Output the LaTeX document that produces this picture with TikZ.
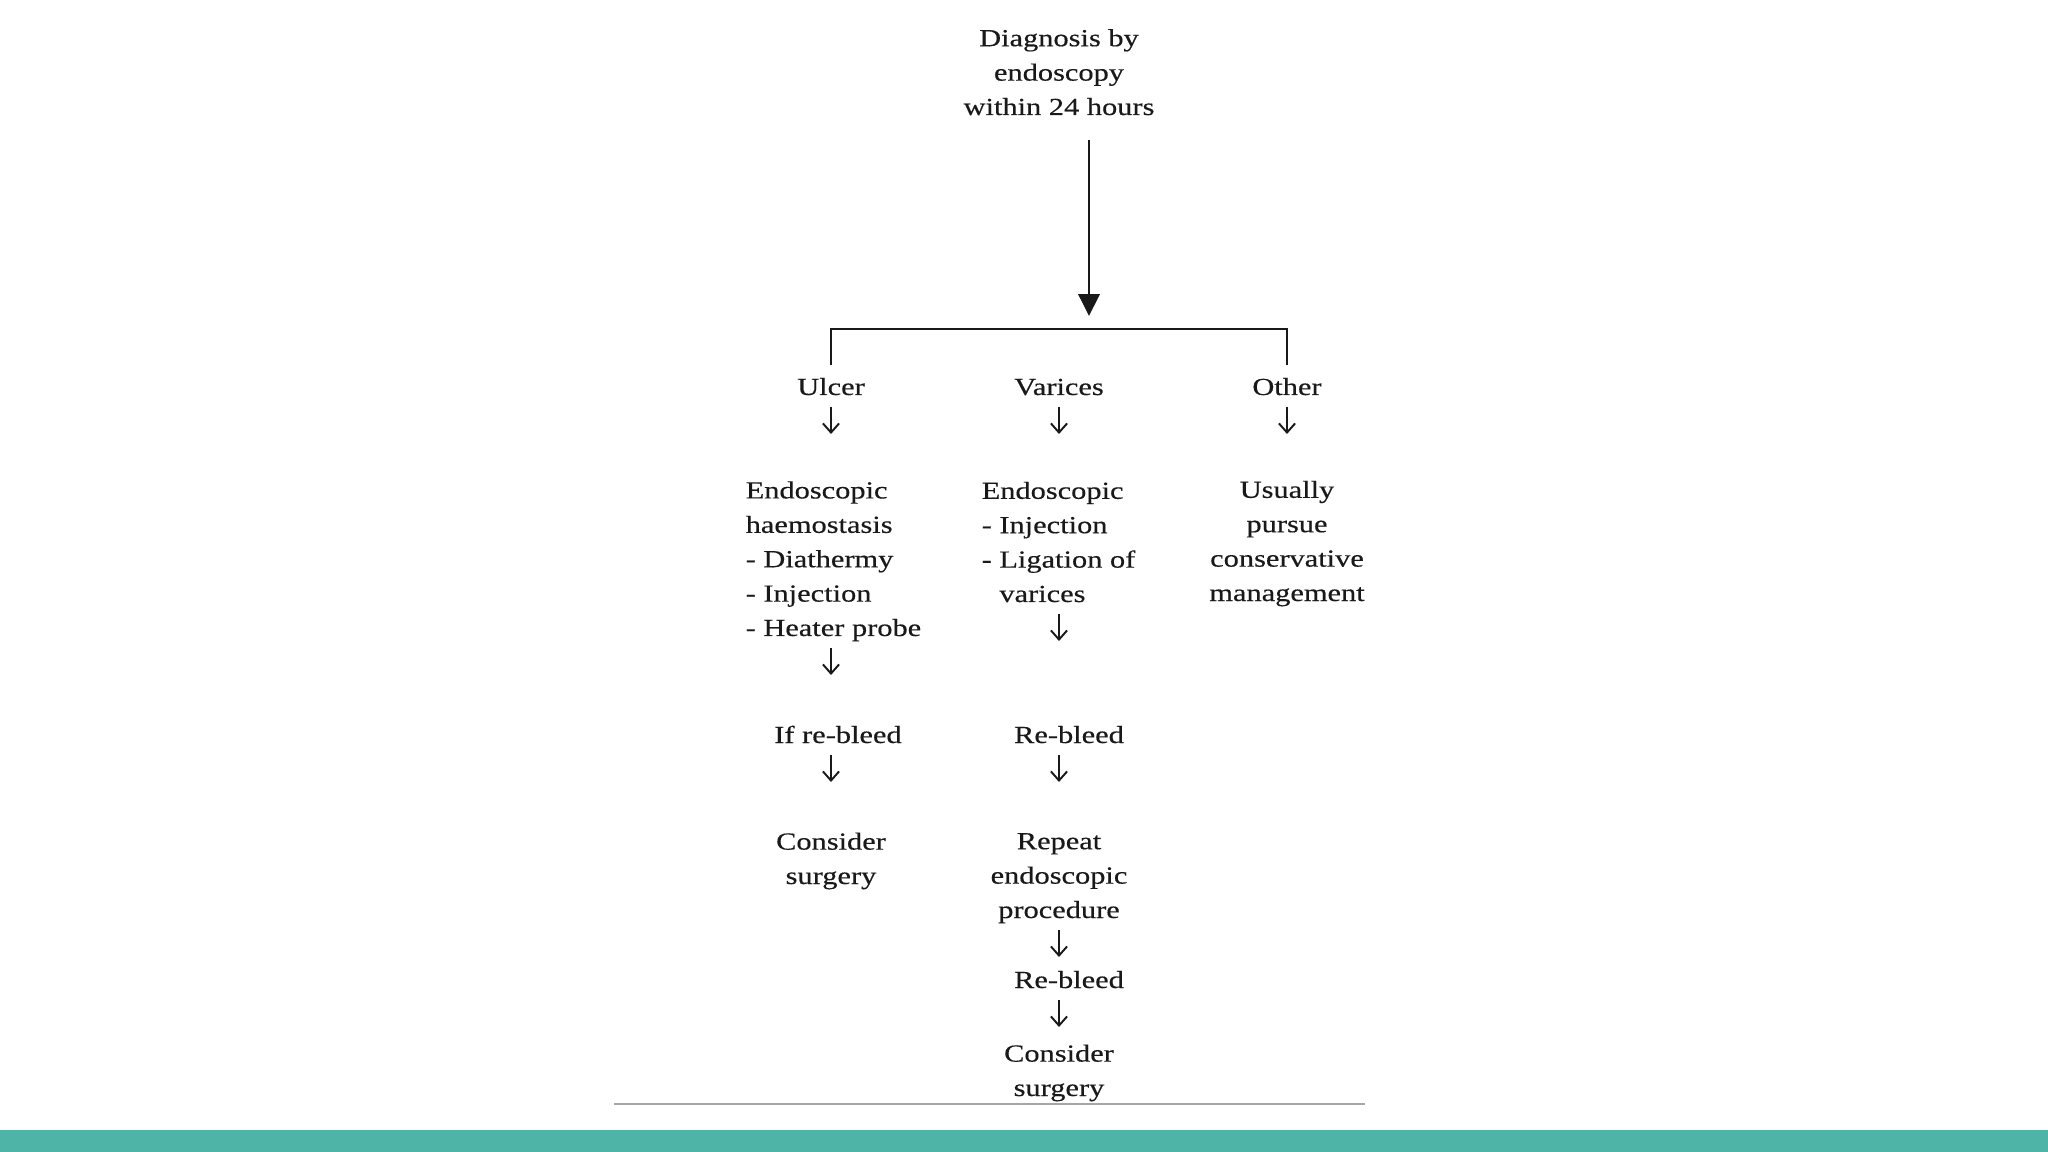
\documentclass[tikz,border=0pt]{standalone}
\usepackage{fontspec}
\setmainfont{Liberation Serif}[FakeStretch=1.24,FakeBold=0.4]
\usetikzlibrary{arrows.meta}
\definecolor{band}{RGB}{79,180,168}
\definecolor{ink}{RGB}{25,25,25}

\begin{document}
\begin{tikzpicture}[x=0.01cm,y=-0.01cm,
  every node/.style={inner sep=0pt,text=ink,font=\fontsize{6.97pt}{9.78pt}\selectfont},
  tick/.style={-{Straight Barb[length=2.6pt,width=4.6pt]},line width=0.55pt,ink},
  bigtip/.style={-{Triangle[length=6.2pt,width=6pt]},line width=0.8pt,ink}]
  \useasboundingbox (0,0) rectangle (2048,1152);
  \fill[band] (0,1130) rectangle (2048,1152);
  \draw[gray!70,line width=0.6pt] (614,1104) -- (1365,1104);

  \node [align=center,anchor=base] (diag) at (1059,115) {Diagnosis by\\endoscopy\\within 24 hours};
  \node [anchor=base] (ulcer) at (831,395) {Ulcer};
  \node [anchor=base] (varices) at (1059,395) {Varices};
  \node [anchor=base] (other) at (1287,395) {Other};
  \node [align=left,anchor=base west] (endoU) at (745,636) {Endoscopic\\haemostasis\\- Diathermy\\- Injection\\- Heater probe};
  \node [align=left,anchor=base west] (endoV) at (981,602) {Endoscopic\\- Injection\\- Ligation of\\\phantom{- }varices};
  \node [align=center,anchor=base] (usual) at (1287,601) {Usually\\pursue\\conservative\\management};
  \node [anchor=base] (ifre) at (838,743) {If re-bleed};
  \node [anchor=base] (rebleed) at (1069,743) {Re-bleed};
  \node [align=center,anchor=base] (consU) at (831,884) {Consider\\surgery};
  \node [align=center,anchor=base] (repeat) at (1059,918) {Repeat\\endoscopic\\procedure};
  \node [anchor=base] (rebleedb) at (1069,988) {Re-bleed};
  \node [align=center,anchor=base] (consV) at (1059,1096) {Consider\\surgery};

  \coordinate (stem) at (1089,140);
  \coordinate (split) at (1089,316);
  \draw[bigtip] (stem) -- (split);
  \draw[line width=0.5pt,ink] (ulcer.north) ++(0,-12) -- ++(0,-36) -| ([yshift=0.12cm]other.north);
  \foreach \n/\c in {ulcer/ulcer,varices/varices,other/other,endoU/ulcer,endoV/varices,
      ifre/ulcer,rebleed/varices,repeat/varices,rebleedb/varices}
    \draw[tick] (\n.base -| \c) ++(0,12) -- ++(0,27);
\end{tikzpicture}
\end{document}
